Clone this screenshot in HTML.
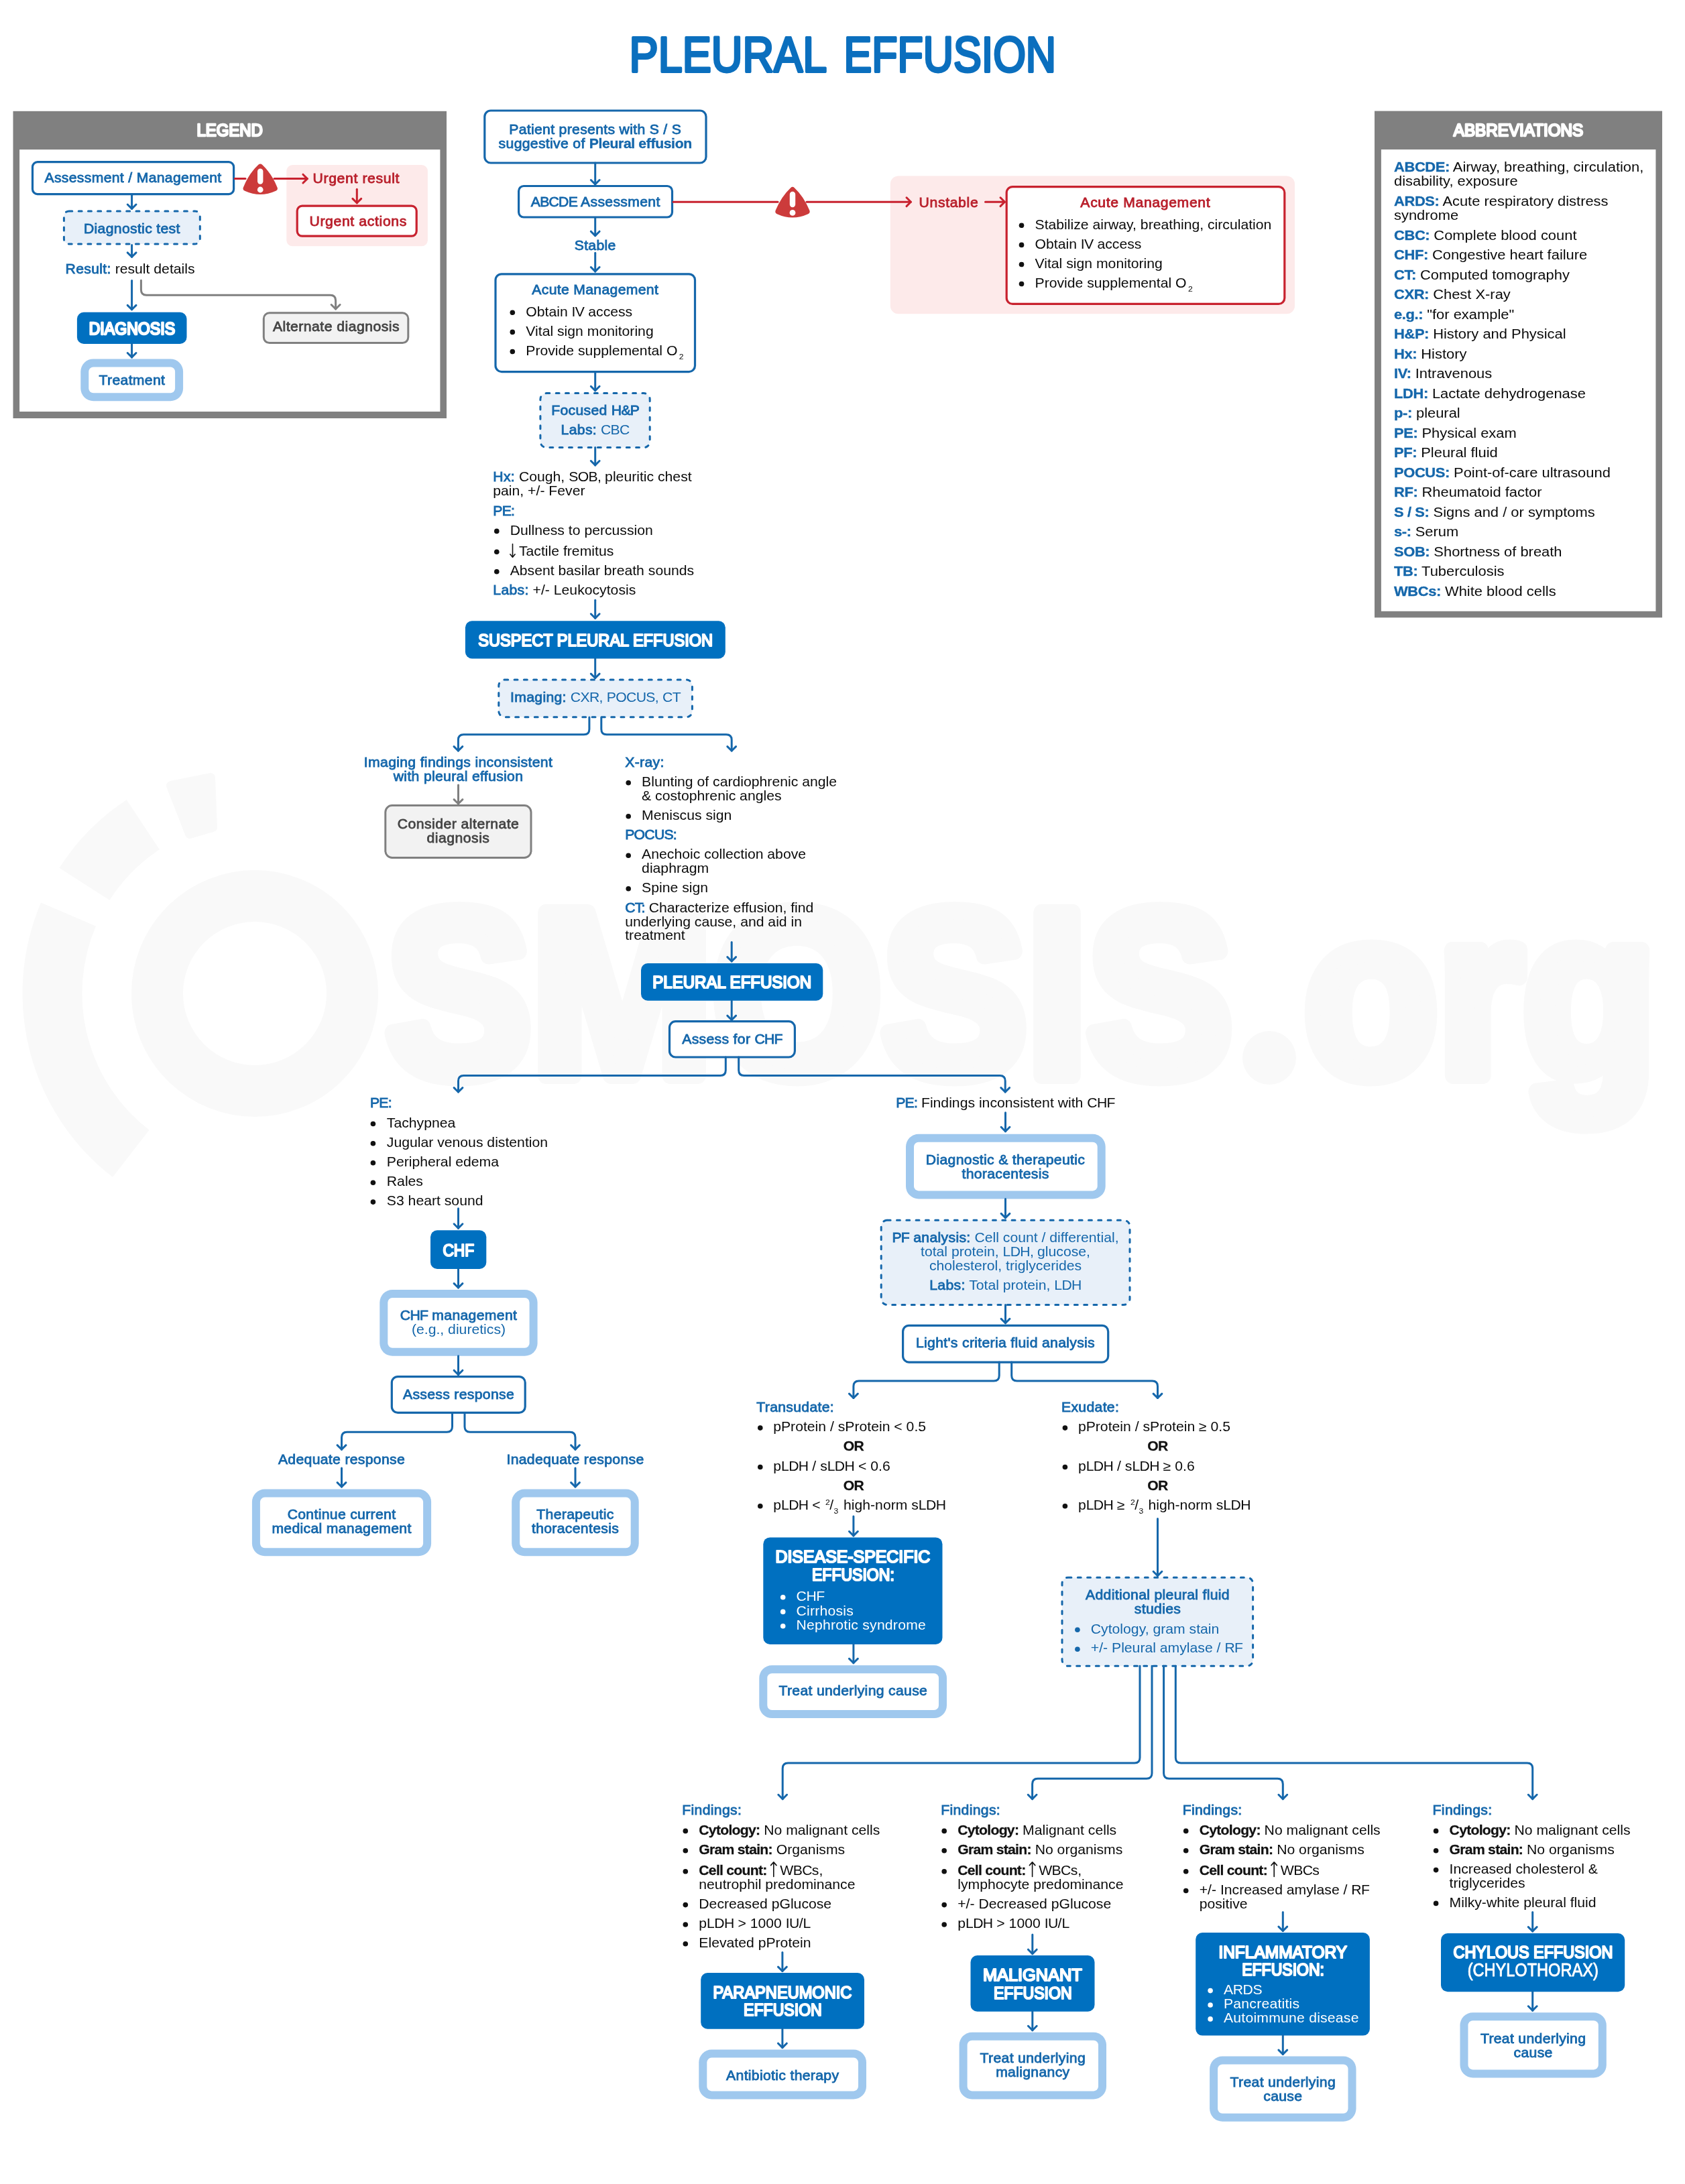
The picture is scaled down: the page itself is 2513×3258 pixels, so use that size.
<!DOCTYPE html>
<html><head><meta charset="utf-8"><title>Pleural Effusion</title>
<style>
html,body{margin:0;padding:0;background:#fff}
body{width:2513px;height:3258px;overflow:hidden}
svg{display:block;will-change:transform;font-family:"Liberation Sans",sans-serif}
svg text{white-space:pre}
</style></head><body>
<svg width="2513" height="3258" viewBox="0 0 2513 3258">
<path d="M195.3 1720.9A302 302 0 0 1 102.0 1364.0" fill="none" stroke="#f9f9f9" stroke-width="89"/>
<path d="M125.9 1318.8A302 302 0 0 1 213.3 1230.2" fill="none" stroke="#f9f9f9" stroke-width="89"/>
<circle cx="380" cy="1482" r="145.5" stroke-width="77" fill="none" stroke="#f9f9f9"/>
<path d="M255 1172L314 1160L317 1234L283 1244Z" stroke-width="14" stroke-linejoin="round" fill="#f9f9f9" stroke="#f9f9f9"/>
<text x="576" y="1604" font-size="352" font-weight="bold" textLength="1262" lengthAdjust="spacingAndGlyphs" fill="#f9f9f9" stroke="#f9f9f9" stroke-width="26" stroke-linejoin="round">SMOSIS</text>
<circle cx="1893" cy="1578" r="40" fill="#f9f9f9"/>
<text x="1945" y="1604" font-size="352" font-weight="bold" textLength="525" lengthAdjust="spacingAndGlyphs" fill="#f9f9f9" stroke="#f9f9f9" stroke-width="26" stroke-linejoin="round">org</text>
<text x="938.6" y="106.5" text-anchor="start" font-size="73.5" font-weight="normal" textLength="294.6" lengthAdjust="spacingAndGlyphs" fill="#0b6fbe" stroke="#0b6fbe" stroke-width="3.8" stroke-linejoin="round">PLEURAL</text>
<text x="1258.5" y="106.5" text-anchor="start" font-size="73.5" font-weight="normal" textLength="316.6" lengthAdjust="spacingAndGlyphs" fill="#0b6fbe" stroke="#0b6fbe" stroke-width="3.8" stroke-linejoin="round">EFFUSION</text>
<rect x="19.5" y="165.8" width="646.5" height="458.2" rx="0.0" fill="#808080"/>
<rect x="29.1" y="223.1" width="627.3" height="390.9" rx="0.0" fill="#fff"/>
<text x="342.7" y="203.3" text-anchor="middle" font-size="25.2" font-weight="normal" textLength="98.4" lengthAdjust="spacingAndGlyphs" fill="#fff" stroke="#fff" stroke-width="2.6" stroke-linejoin="round">LEGEND</text>
<rect x="48.5" y="241.7" width="300.1" height="47.9" rx="7.4" fill="#fff" stroke="#1567ab" stroke-width="3.2"/>
<text transform="translate(198.5 272.1) scale(1.060 1)" text-anchor="middle" font-size="20.0"><tspan style="fill:#1567ab;stroke:#1567ab;stroke-width:.8px;letter-spacing:0.30px">Assessment / Management</tspan></text>
<path d="M196.6 291.2L196.6 311.4" fill="none" stroke="#1567ab" stroke-width="3.0" stroke-linecap="round" stroke-linejoin="round"/>
<path d="M190.2 305.0L196.6 311.4L203.0 305.0" fill="none" stroke="#1567ab" stroke-width="3.0" stroke-linecap="round" stroke-linejoin="round"/>
<rect x="95.4" y="314.9" width="202.9" height="49.1" rx="7.5" fill="#e8f0f9" stroke="#1567ab" stroke-width="3.0" stroke-dasharray="4.9 9.4" stroke-linecap="round"/>
<text transform="translate(196.8 347.7) scale(1.060 1)" text-anchor="middle" font-size="20.0"><tspan style="fill:#1567ab;stroke:#1567ab;stroke-width:.8px;letter-spacing:0.30px">Diagnostic test</tspan></text>
<path d="M196.6 365.5L196.6 383.3" fill="none" stroke="#1567ab" stroke-width="3.0" stroke-linecap="round" stroke-linejoin="round"/>
<path d="M190.2 376.9L196.6 383.3L203.0 376.9" fill="none" stroke="#1567ab" stroke-width="3.0" stroke-linecap="round" stroke-linejoin="round"/>
<text transform="translate(97.6 408.0) scale(1.060 1)" text-anchor="start" font-size="20.0"><tspan style="fill:#1567ab;stroke:#1567ab;stroke-width:.8px;letter-spacing:0.30px">Result:</tspan><tspan style="fill:#0a0a0a;letter-spacing:0.00px"> result details</tspan></text>
<path d="M196.6 418.4L196.6 461.8" fill="none" stroke="#1567ab" stroke-width="3.0" stroke-linecap="round" stroke-linejoin="round"/>
<path d="M190.2 455.4L196.6 461.8L203.0 455.4" fill="none" stroke="#1567ab" stroke-width="3.0" stroke-linecap="round" stroke-linejoin="round"/>
<path d="M210.4 418.2L210.4 432.2Q210.4 440.2 218.4 440.2L492.6 440.2Q500.6 440.2 500.6 448.2L500.6 461" fill="none" stroke="#808080" stroke-width="3.0" stroke-linecap="round" stroke-linejoin="round"/>
<path d="M494.1 454.5L500.6 461.0L507.1 454.5" fill="none" stroke="#808080" stroke-width="3.0" stroke-linecap="round" stroke-linejoin="round"/>
<rect x="393.3" y="466.8" width="215.5" height="44.8" rx="8.5" fill="#f2f2f2" stroke="#808080" stroke-width="3.0"/>
<text transform="translate(501.5 494.0) scale(1.060 1)" text-anchor="middle" font-size="20.0"><tspan style="fill:#444;stroke:#444;stroke-width:.75px;letter-spacing:0.45px">Alternate diagnosis</tspan></text>
<rect x="114.9" y="465.8" width="163.6" height="47.2" rx="10.0" fill="#0070c0"/>
<text x="196.9" y="498.9" text-anchor="middle" font-size="25.2" font-weight="normal" textLength="128.4" lengthAdjust="spacingAndGlyphs" fill="#fff" stroke="#fff" stroke-width="2.6" stroke-linejoin="round">DIAGNOSIS</text>
<path d="M196.6 513.0L196.6 532.9" fill="none" stroke="#1567ab" stroke-width="3.0" stroke-linecap="round" stroke-linejoin="round"/>
<path d="M190.2 526.5L196.6 532.9L203.0 526.5" fill="none" stroke="#1567ab" stroke-width="3.0" stroke-linecap="round" stroke-linejoin="round"/>
<rect x="120.3" y="535.4" width="152.8" height="62.9" rx="19.0" fill="#9fc8ee"/>
<rect x="132.3" y="547.4" width="128.8" height="38.9" rx="7.0" fill="#fff"/>
<text transform="translate(196.9 574.2) scale(1.060 1)" text-anchor="middle" font-size="20.0"><tspan style="fill:#1567ab;stroke:#1567ab;stroke-width:.8px;letter-spacing:0.30px">Treatment</tspan></text>
<rect x="427.3" y="246.0" width="210.6" height="121.3" rx="9.0" fill="#fdeaea"/>
<path d="M350.2 266.6L366 266.6" fill="none" stroke="#c8222f" stroke-width="3.0" stroke-linecap="round" stroke-linejoin="round"/>
<path d="M409.0 266.6L458.3 266.6" fill="none" stroke="#c8222f" stroke-width="3.0" stroke-linecap="round" stroke-linejoin="round"/>
<path d="M451.9 260.2L458.3 266.6L451.9 273.0" fill="none" stroke="#c8222f" stroke-width="3.0" stroke-linecap="round" stroke-linejoin="round"/>
<g transform="translate(388.2 267.2)">
<path d="M0 -18.4 Q-13.6 -5.6 -21.4 13.8 Q0 23.6 21.4 13.8 Q13.6 -5.6 0 -18.4 Z" fill="#cc3b3b" stroke="#cc3b3b" stroke-width="8.4" stroke-linejoin="round"/>
<rect x="-4.2" y="-15.8" width="8.4" height="23.4" rx="4.2" fill="#fff"/>
<circle cx="0" cy="15.8" r="4.4" fill="#fff"/>
</g>
<text transform="translate(466.5 272.9) scale(1.060 1)" text-anchor="start" font-size="20.0"><tspan style="fill:#b9202c;stroke:#b9202c;stroke-width:.8px;letter-spacing:0.60px">Urgent result</tspan></text>
<path d="M532.3 282.3L532.3 302.8" fill="none" stroke="#c8222f" stroke-width="3.0" stroke-linecap="round" stroke-linejoin="round"/>
<path d="M525.9 296.4L532.3 302.8L538.7 296.4" fill="none" stroke="#c8222f" stroke-width="3.0" stroke-linecap="round" stroke-linejoin="round"/>
<rect x="443.2" y="307.2" width="178.0" height="45.0" rx="7.4" fill="#fff" stroke="#c8222f" stroke-width="3.2"/>
<text transform="translate(534.2 336.5) scale(1.060 1)" text-anchor="middle" font-size="20.0"><tspan style="fill:#b9202c;stroke:#b9202c;stroke-width:.8px;letter-spacing:0.60px">Urgent actions</tspan></text>
<rect x="2050.0" y="165.6" width="429.0" height="755.7" rx="0.0" fill="#808080"/>
<rect x="2059.9" y="223.0" width="409.5" height="688.8" rx="0.0" fill="#fff"/>
<text x="2264.5" y="203.3" text-anchor="middle" font-size="25.2" font-weight="normal" textLength="193.4" lengthAdjust="spacingAndGlyphs" fill="#fff" stroke="#fff" stroke-width="2.6" stroke-linejoin="round">ABBREVIATIONS</text>
<text transform="translate(2079.0 255.7) scale(1.075 1)" text-anchor="start" font-size="20.4"><tspan style="fill:#1567ab;font-weight:bold;letter-spacing:-.35px;stroke:#1567ab;stroke-width:.35px">ABCDE:</tspan><tspan style="fill:#0a0a0a;letter-spacing:0.00px"> Airway, breathing, circulation,</tspan></text>
<text transform="translate(2079.0 277.2) scale(1.075 1)" text-anchor="start" font-size="20.4"><tspan style="fill:#0a0a0a;letter-spacing:0.00px">disability, exposure</tspan></text>
<text transform="translate(2079.0 306.6) scale(1.075 1)" text-anchor="start" font-size="20.4"><tspan style="fill:#1567ab;font-weight:bold;letter-spacing:-.35px;stroke:#1567ab;stroke-width:.35px">ARDS:</tspan><tspan style="fill:#0a0a0a;letter-spacing:0.00px"> Acute respiratory distress</tspan></text>
<text transform="translate(2079.0 327.8) scale(1.075 1)" text-anchor="start" font-size="20.4"><tspan style="fill:#0a0a0a;letter-spacing:0.00px">syndrome</tspan></text>
<text transform="translate(2079.0 357.5) scale(1.075 1)" text-anchor="start" font-size="20.4"><tspan style="fill:#1567ab;font-weight:bold;letter-spacing:-.35px;stroke:#1567ab;stroke-width:.35px">CBC:</tspan><tspan style="fill:#0a0a0a;letter-spacing:0.00px"> Complete blood count</tspan></text>
<text transform="translate(2079.0 387.2) scale(1.075 1)" text-anchor="start" font-size="20.4"><tspan style="fill:#1567ab;font-weight:bold;letter-spacing:-.35px;stroke:#1567ab;stroke-width:.35px">CHF:</tspan><tspan style="fill:#0a0a0a;letter-spacing:0.00px"> Congestive heart failure</tspan></text>
<text transform="translate(2079.0 416.5) scale(1.075 1)" text-anchor="start" font-size="20.4"><tspan style="fill:#1567ab;font-weight:bold;letter-spacing:-.35px;stroke:#1567ab;stroke-width:.35px">CT:</tspan><tspan style="fill:#0a0a0a;letter-spacing:0.00px"> Computed tomography</tspan></text>
<text transform="translate(2079.0 446.2) scale(1.075 1)" text-anchor="start" font-size="20.4"><tspan style="fill:#1567ab;font-weight:bold;letter-spacing:-.35px;stroke:#1567ab;stroke-width:.35px">CXR:</tspan><tspan style="fill:#0a0a0a;letter-spacing:0.00px"> Chest X-ray</tspan></text>
<text transform="translate(2079.0 475.5) scale(1.075 1)" text-anchor="start" font-size="20.4"><tspan style="fill:#1567ab;font-weight:bold;letter-spacing:-.35px;stroke:#1567ab;stroke-width:.35px">e.g.:</tspan><tspan style="fill:#0a0a0a;letter-spacing:0.00px"> "for example"</tspan></text>
<text transform="translate(2079.0 505.0) scale(1.075 1)" text-anchor="start" font-size="20.4"><tspan style="fill:#1567ab;font-weight:bold;letter-spacing:-.35px;stroke:#1567ab;stroke-width:.35px">H&amp;P:</tspan><tspan style="fill:#0a0a0a;letter-spacing:0.00px"> History and Physical</tspan></text>
<text transform="translate(2079.0 534.8) scale(1.075 1)" text-anchor="start" font-size="20.4"><tspan style="fill:#1567ab;font-weight:bold;letter-spacing:-.35px;stroke:#1567ab;stroke-width:.35px">Hx:</tspan><tspan style="fill:#0a0a0a;letter-spacing:0.00px"> History</tspan></text>
<text transform="translate(2079.0 564.2) scale(1.075 1)" text-anchor="start" font-size="20.4"><tspan style="fill:#1567ab;font-weight:bold;letter-spacing:-.35px;stroke:#1567ab;stroke-width:.35px">IV:</tspan><tspan style="fill:#0a0a0a;letter-spacing:0.00px"> Intravenous</tspan></text>
<text transform="translate(2079.0 593.5) scale(1.075 1)" text-anchor="start" font-size="20.4"><tspan style="fill:#1567ab;font-weight:bold;letter-spacing:-.35px;stroke:#1567ab;stroke-width:.35px">LDH:</tspan><tspan style="fill:#0a0a0a;letter-spacing:0.00px"> Lactate dehydrogenase</tspan></text>
<text transform="translate(2079.0 622.9) scale(1.075 1)" text-anchor="start" font-size="20.4"><tspan style="fill:#1567ab;font-weight:bold;letter-spacing:-.35px;stroke:#1567ab;stroke-width:.35px">p-:</tspan><tspan style="fill:#0a0a0a;letter-spacing:0.00px"> pleural</tspan></text>
<text transform="translate(2079.0 652.7) scale(1.075 1)" text-anchor="start" font-size="20.4"><tspan style="fill:#1567ab;font-weight:bold;letter-spacing:-.35px;stroke:#1567ab;stroke-width:.35px">PE:</tspan><tspan style="fill:#0a0a0a;letter-spacing:0.00px"> Physical exam</tspan></text>
<text transform="translate(2079.0 682.2) scale(1.075 1)" text-anchor="start" font-size="20.4"><tspan style="fill:#1567ab;font-weight:bold;letter-spacing:-.35px;stroke:#1567ab;stroke-width:.35px">PF:</tspan><tspan style="fill:#0a0a0a;letter-spacing:0.00px"> Pleural fluid</tspan></text>
<text transform="translate(2079.0 711.7) scale(1.075 1)" text-anchor="start" font-size="20.4"><tspan style="fill:#1567ab;font-weight:bold;letter-spacing:-.35px;stroke:#1567ab;stroke-width:.35px">POCUS:</tspan><tspan style="fill:#0a0a0a;letter-spacing:0.00px"> Point-of-care ultrasound</tspan></text>
<text transform="translate(2079.0 741.2) scale(1.075 1)" text-anchor="start" font-size="20.4"><tspan style="fill:#1567ab;font-weight:bold;letter-spacing:-.35px;stroke:#1567ab;stroke-width:.35px">RF:</tspan><tspan style="fill:#0a0a0a;letter-spacing:0.00px"> Rheumatoid factor</tspan></text>
<text transform="translate(2079.0 770.8) scale(1.075 1)" text-anchor="start" font-size="20.4"><tspan style="fill:#1567ab;font-weight:bold;letter-spacing:-.35px;stroke:#1567ab;stroke-width:.35px">S / S:</tspan><tspan style="fill:#0a0a0a;letter-spacing:0.00px"> Signs and / or symptoms</tspan></text>
<text transform="translate(2079.0 800.4) scale(1.075 1)" text-anchor="start" font-size="20.4"><tspan style="fill:#1567ab;font-weight:bold;letter-spacing:-.35px;stroke:#1567ab;stroke-width:.35px">s-:</tspan><tspan style="fill:#0a0a0a;letter-spacing:0.00px"> Serum</tspan></text>
<text transform="translate(2079.0 830.2) scale(1.075 1)" text-anchor="start" font-size="20.4"><tspan style="fill:#1567ab;font-weight:bold;letter-spacing:-.35px;stroke:#1567ab;stroke-width:.35px">SOB:</tspan><tspan style="fill:#0a0a0a;letter-spacing:0.00px"> Shortness of breath</tspan></text>
<text transform="translate(2079.0 859.4) scale(1.075 1)" text-anchor="start" font-size="20.4"><tspan style="fill:#1567ab;font-weight:bold;letter-spacing:-.35px;stroke:#1567ab;stroke-width:.35px">TB:</tspan><tspan style="fill:#0a0a0a;letter-spacing:0.00px"> Tuberculosis</tspan></text>
<text transform="translate(2079.0 888.9) scale(1.075 1)" text-anchor="start" font-size="20.4"><tspan style="fill:#1567ab;font-weight:bold;letter-spacing:-.35px;stroke:#1567ab;stroke-width:.35px">WBCs:</tspan><tspan style="fill:#0a0a0a;letter-spacing:0.00px"> White blood cells</tspan></text>
<rect x="722.8" y="165.0" width="330.2" height="78.0" rx="9.0" fill="#fff" stroke="#1567ab" stroke-width="3.2"/>
<text transform="translate(887.7 200.2) scale(1.060 1)" text-anchor="middle" font-size="20.0"><tspan style="fill:#1567ab;stroke:#1567ab;stroke-width:.8px;letter-spacing:0.30px">Patient presents with S / S</tspan></text>
<text transform="translate(887.7 221.4) scale(1.060 1)" text-anchor="middle" font-size="20.0"><tspan style="fill:#1567ab;stroke:#1567ab;stroke-width:.8px;letter-spacing:0.30px">suggestive of </tspan><tspan style="fill:#1567ab;font-weight:bold;letter-spacing:-.35px;stroke:#1567ab;stroke-width:.35px">Pleural effusion</tspan></text>
<path d="M887.7 243.0L887.7 274.9" fill="none" stroke="#1567ab" stroke-width="3.0" stroke-linecap="round" stroke-linejoin="round"/>
<path d="M881.3 268.5L887.7 274.9L894.1 268.5" fill="none" stroke="#1567ab" stroke-width="3.0" stroke-linecap="round" stroke-linejoin="round"/>
<rect x="773.6" y="277.5" width="228.9" height="46.5" rx="7.4" fill="#fff" stroke="#1567ab" stroke-width="3.2"/>
<text transform="translate(888.2 307.8) scale(1.060 1)" text-anchor="middle" font-size="20.0"><tspan style="fill:#1567ab;stroke:#1567ab;stroke-width:.8px;letter-spacing:-0.70px">ABCDE</tspan><tspan style="fill:#1567ab;stroke:#1567ab;stroke-width:.8px;letter-spacing:0.30px"> Assessment</tspan></text>
<rect x="1327.8" y="262.6" width="603.2" height="205.6" rx="12.0" fill="#fdeaea"/>
<path d="M1004.1 301.2L1160 301.2" fill="none" stroke="#c8222f" stroke-width="3.0" stroke-linecap="round" stroke-linejoin="round"/>
<path d="M1203.0 301.2L1358.4 301.2" fill="none" stroke="#c8222f" stroke-width="3.0" stroke-linecap="round" stroke-linejoin="round"/>
<path d="M1352.0 294.8L1358.4 301.2L1352.0 307.6" fill="none" stroke="#c8222f" stroke-width="3.0" stroke-linecap="round" stroke-linejoin="round"/>
<g transform="translate(1182.0 301.6)">
<path d="M0 -18.4 Q-13.6 -5.6 -21.4 13.8 Q0 23.6 21.4 13.8 Q13.6 -5.6 0 -18.4 Z" fill="#cc3b3b" stroke="#cc3b3b" stroke-width="8.4" stroke-linejoin="round"/>
<rect x="-4.2" y="-15.8" width="8.4" height="23.4" rx="4.2" fill="#fff"/>
<circle cx="0" cy="15.8" r="4.4" fill="#fff"/>
</g>
<text transform="translate(1370.6 309.2) scale(1.060 1)" text-anchor="start" font-size="20.0"><tspan style="fill:#b9202c;stroke:#b9202c;stroke-width:.8px;letter-spacing:0.60px">Unstable</tspan></text>
<path d="M1469.5 301.2L1498.4 301.2" fill="none" stroke="#c8222f" stroke-width="3.0" stroke-linecap="round" stroke-linejoin="round"/>
<path d="M1492.0 294.8L1498.4 301.2L1492.0 307.6" fill="none" stroke="#c8222f" stroke-width="3.0" stroke-linecap="round" stroke-linejoin="round"/>
<rect x="1501.2" y="278.6" width="414.6" height="174.8" rx="9.0" fill="#fff" stroke="#c8222f" stroke-width="3.2"/>
<text transform="translate(1708.3 309.2) scale(1.060 1)" text-anchor="middle" font-size="20.0"><tspan style="fill:#b9202c;stroke:#b9202c;stroke-width:.8px;letter-spacing:0.60px">Acute Management</tspan></text>
<circle cx="1523.5" cy="336.3" r="3.8" fill="#111"/>
<text transform="translate(1543.5 341.5) scale(1.060 1)" text-anchor="start" font-size="20.0"><tspan style="fill:#0a0a0a;letter-spacing:0.00px">Stabilize airway, breathing, circulation</tspan></text>
<circle cx="1523.5" cy="365.4" r="3.8" fill="#111"/>
<text transform="translate(1543.5 370.6) scale(1.060 1)" text-anchor="start" font-size="20.0"><tspan style="fill:#0a0a0a;letter-spacing:0.00px">Obtain </tspan><tspan style="fill:#0a0a0a;letter-spacing:-0.60px">IV</tspan><tspan style="fill:#0a0a0a;letter-spacing:0.00px"> access</tspan></text>
<circle cx="1523.5" cy="394.5" r="3.8" fill="#111"/>
<text transform="translate(1543.5 399.7) scale(1.060 1)" text-anchor="start" font-size="20.0"><tspan style="fill:#0a0a0a;letter-spacing:0.00px">Vital sign monitoring</tspan></text>
<circle cx="1523.5" cy="423.5" r="3.8" fill="#111"/>
<text transform="translate(1543.5 428.7) scale(1.060 1)" text-anchor="start" font-size="20.0"><tspan style="fill:#0a0a0a;letter-spacing:0.00px">Provide supplemental O</tspan></text>
<text transform="translate(1772.0 434.5) scale(1.060 1)" text-anchor="start" font-size="11.5"><tspan style="fill:#0a0a0a;letter-spacing:0.00px">2</tspan></text>
<path d="M887.7 325.6L887.7 351.6" fill="none" stroke="#1567ab" stroke-width="3.0" stroke-linecap="round" stroke-linejoin="round"/>
<path d="M881.3 345.2L887.7 351.6L894.1 345.2" fill="none" stroke="#1567ab" stroke-width="3.0" stroke-linecap="round" stroke-linejoin="round"/>
<text transform="translate(887.7 372.6) scale(1.060 1)" text-anchor="middle" font-size="20.0"><tspan style="fill:#1567ab;stroke:#1567ab;stroke-width:.8px;letter-spacing:0.30px">Stable</tspan></text>
<path d="M887.7 377.3L887.7 404.9" fill="none" stroke="#1567ab" stroke-width="3.0" stroke-linecap="round" stroke-linejoin="round"/>
<path d="M881.3 398.5L887.7 404.9L894.1 398.5" fill="none" stroke="#1567ab" stroke-width="3.0" stroke-linecap="round" stroke-linejoin="round"/>
<rect x="739.0" y="408.8" width="297.5" height="145.8" rx="9.0" fill="#fff" stroke="#1567ab" stroke-width="3.2"/>
<text transform="translate(887.7 439.1) scale(1.060 1)" text-anchor="middle" font-size="20.0"><tspan style="fill:#1567ab;stroke:#1567ab;stroke-width:.8px;letter-spacing:0.30px">Acute Management</tspan></text>
<circle cx="764.3" cy="466.3" r="3.8" fill="#111"/>
<text transform="translate(784.3 471.5) scale(1.060 1)" text-anchor="start" font-size="20.0"><tspan style="fill:#0a0a0a;letter-spacing:0.00px">Obtain </tspan><tspan style="fill:#0a0a0a;letter-spacing:-0.60px">IV</tspan><tspan style="fill:#0a0a0a;letter-spacing:0.00px"> access</tspan></text>
<circle cx="764.3" cy="495.4" r="3.8" fill="#111"/>
<text transform="translate(784.3 500.6) scale(1.060 1)" text-anchor="start" font-size="20.0"><tspan style="fill:#0a0a0a;letter-spacing:0.00px">Vital sign monitoring</tspan></text>
<circle cx="764.3" cy="524.5" r="3.8" fill="#111"/>
<text transform="translate(784.3 529.7) scale(1.060 1)" text-anchor="start" font-size="20.0"><tspan style="fill:#0a0a0a;letter-spacing:0.00px">Provide supplemental O</tspan></text>
<text transform="translate(1012.8 535.5) scale(1.060 1)" text-anchor="start" font-size="11.5"><tspan style="fill:#0a0a0a;letter-spacing:0.00px">2</tspan></text>
<path d="M887.7 554.6L887.7 582.7" fill="none" stroke="#1567ab" stroke-width="3.0" stroke-linecap="round" stroke-linejoin="round"/>
<path d="M881.3 576.3L887.7 582.7L894.1 576.3" fill="none" stroke="#1567ab" stroke-width="3.0" stroke-linecap="round" stroke-linejoin="round"/>
<rect x="805.9" y="586.6" width="163.3" height="81.0" rx="9.0" fill="#e8f0f9" stroke="#1567ab" stroke-width="3.0" stroke-dasharray="4.9 9.4" stroke-linecap="round"/>
<text transform="translate(887.7 619.0) scale(1.060 1)" text-anchor="middle" font-size="20.0"><tspan style="fill:#1567ab;stroke:#1567ab;stroke-width:.8px;letter-spacing:0.30px">Focused </tspan><tspan style="fill:#1567ab;stroke:#1567ab;stroke-width:.8px;letter-spacing:-0.70px">H&amp;P</tspan></text>
<text transform="translate(887.7 648.1) scale(1.060 1)" text-anchor="middle" font-size="20.0"><tspan style="fill:#1567ab;stroke:#1567ab;stroke-width:.8px;letter-spacing:0.30px">Labs:</tspan><tspan style="fill:#1567ab;letter-spacing:0.00px"> </tspan><tspan style="fill:#1567ab;letter-spacing:-0.60px">CBC</tspan></text>
<path d="M887.7 667.6L887.7 693.9" fill="none" stroke="#1567ab" stroke-width="3.0" stroke-linecap="round" stroke-linejoin="round"/>
<path d="M881.3 687.5L887.7 693.9L894.1 687.5" fill="none" stroke="#1567ab" stroke-width="3.0" stroke-linecap="round" stroke-linejoin="round"/>
<text transform="translate(735.3 718.3) scale(1.060 1)" text-anchor="start" font-size="20.0"><tspan style="fill:#1567ab;stroke:#1567ab;stroke-width:.8px;letter-spacing:0.30px">Hx:</tspan><tspan style="fill:#0a0a0a;letter-spacing:0.00px"> Cough, </tspan><tspan style="fill:#0a0a0a;letter-spacing:-0.60px">SOB,</tspan><tspan style="fill:#0a0a0a;letter-spacing:0.00px"> pleuritic chest</tspan></text>
<text transform="translate(735.3 738.8) scale(1.060 1)" text-anchor="start" font-size="20.0"><tspan style="fill:#0a0a0a;letter-spacing:0.00px">pain, +/- Fever</tspan></text>
<text transform="translate(735.3 768.7) scale(1.060 1)" text-anchor="start" font-size="20.0"><tspan style="fill:#1567ab;stroke:#1567ab;stroke-width:.8px;letter-spacing:-0.70px">PE:</tspan></text>
<circle cx="740.8" cy="792.4" r="3.8" fill="#111"/>
<text transform="translate(760.7 797.6) scale(1.060 1)" text-anchor="start" font-size="20.0"><tspan style="fill:#0a0a0a;letter-spacing:0.00px">Dullness to percussion</tspan></text>
<circle cx="740.8" cy="823.3" r="3.8" fill="#111"/>
<text transform="translate(774.0 828.5) scale(1.060 1)" text-anchor="start" font-size="20.0"><tspan style="fill:#0a0a0a;letter-spacing:0.00px">Tactile fremitus</tspan></text>
<path d="M764.5 811.5L764.5 831M760.9 826.8L764.5 831.2L768.1 826.8" fill="none" stroke="#111" stroke-width="1.6" stroke-linecap="round" stroke-linejoin="round"/>
<circle cx="740.8" cy="852.7" r="3.8" fill="#111"/>
<text transform="translate(760.7 857.9) scale(1.060 1)" text-anchor="start" font-size="20.0"><tspan style="fill:#0a0a0a;letter-spacing:0.00px">Absent basilar breath sounds</tspan></text>
<text transform="translate(735.3 887.3) scale(1.060 1)" text-anchor="start" font-size="20.0"><tspan style="fill:#1567ab;stroke:#1567ab;stroke-width:.8px;letter-spacing:0.30px">Labs:</tspan><tspan style="fill:#0a0a0a;letter-spacing:0.00px"> +/- Leukocytosis</tspan></text>
<path d="M887.7 895.3L887.7 922.2" fill="none" stroke="#1567ab" stroke-width="3.0" stroke-linecap="round" stroke-linejoin="round"/>
<path d="M881.3 915.8L887.7 922.2L894.1 915.8" fill="none" stroke="#1567ab" stroke-width="3.0" stroke-linecap="round" stroke-linejoin="round"/>
<rect x="693.9" y="926.2" width="387.9" height="56.3" rx="10.0" fill="#0070c0"/>
<text x="888.2" y="963.6" text-anchor="middle" font-size="25.2" font-weight="normal" textLength="349.8" lengthAdjust="spacingAndGlyphs" fill="#fff" stroke="#fff" stroke-width="2.2" stroke-linejoin="round">SUSPECT PLEURAL EFFUSION</text>
<path d="M887.7 982.5L887.7 1011.5" fill="none" stroke="#1567ab" stroke-width="3.0" stroke-linecap="round" stroke-linejoin="round"/>
<path d="M881.3 1005.1L887.7 1011.5L894.1 1005.1" fill="none" stroke="#1567ab" stroke-width="3.0" stroke-linecap="round" stroke-linejoin="round"/>
<rect x="743.8" y="1014.0" width="288.6" height="55.8" rx="9.0" fill="#e8f0f9" stroke="#1567ab" stroke-width="3.0" stroke-dasharray="4.9 9.4" stroke-linecap="round"/>
<text transform="translate(888.0 1047.3) scale(1.060 1)" text-anchor="middle" font-size="20.0"><tspan style="fill:#1567ab;stroke:#1567ab;stroke-width:.8px;letter-spacing:0.30px">Imaging:</tspan><tspan style="fill:#1567ab;letter-spacing:0.00px"> </tspan><tspan style="fill:#1567ab;letter-spacing:-0.60px">CXR,</tspan><tspan style="fill:#1567ab;letter-spacing:0.00px"> </tspan><tspan style="fill:#1567ab;letter-spacing:-0.60px">POCUS,</tspan><tspan style="fill:#1567ab;letter-spacing:0.00px"> </tspan><tspan style="fill:#1567ab;letter-spacing:-0.60px">CT</tspan></text>
<path d="M878.9 1070.0L878.9 1087.7Q878.9 1095.7 870.9 1095.7L691.4 1095.7Q683.4 1095.7 683.4 1103.7L683.4 1120.0" fill="none" stroke="#1567ab" stroke-width="3.0" stroke-linecap="round" stroke-linejoin="round"/>
<path d="M677.0 1113.6L683.4 1120.0L689.8 1113.6" fill="none" stroke="#1567ab" stroke-width="3.0" stroke-linecap="round" stroke-linejoin="round"/>
<path d="M896.8 1070.0L896.8 1087.7Q896.8 1095.7 904.8 1095.7L1083.2 1095.7Q1091.2 1095.7 1091.2 1103.7L1091.2 1120.0" fill="none" stroke="#1567ab" stroke-width="3.0" stroke-linecap="round" stroke-linejoin="round"/>
<path d="M1084.8 1113.6L1091.2 1120.0L1097.6 1113.6" fill="none" stroke="#1567ab" stroke-width="3.0" stroke-linecap="round" stroke-linejoin="round"/>
<text transform="translate(683.5 1143.8) scale(1.060 1)" text-anchor="middle" font-size="20.0"><tspan style="fill:#1567ab;stroke:#1567ab;stroke-width:.8px;letter-spacing:0.30px">Imaging findings inconsistent</tspan></text>
<text transform="translate(683.5 1164.7) scale(1.060 1)" text-anchor="middle" font-size="20.0"><tspan style="fill:#1567ab;stroke:#1567ab;stroke-width:.8px;letter-spacing:0.30px">with pleural effusion</tspan></text>
<path d="M683.5 1171.0L683.5 1199.0" fill="none" stroke="#808080" stroke-width="3.0" stroke-linecap="round" stroke-linejoin="round"/>
<path d="M677.1 1192.6L683.5 1199.0L689.9 1192.6" fill="none" stroke="#808080" stroke-width="3.0" stroke-linecap="round" stroke-linejoin="round"/>
<rect x="574.8" y="1201.6" width="217.2" height="77.8" rx="10.0" fill="#f2f2f2" stroke="#808080" stroke-width="3.0"/>
<text transform="translate(683.5 1235.5) scale(1.060 1)" text-anchor="middle" font-size="20.0"><tspan style="fill:#444;stroke:#444;stroke-width:.75px;letter-spacing:0.45px">Consider alternate</tspan></text>
<text transform="translate(683.5 1256.5) scale(1.060 1)" text-anchor="middle" font-size="20.0"><tspan style="fill:#444;stroke:#444;stroke-width:.75px;letter-spacing:0.45px">diagnosis</tspan></text>
<text transform="translate(932.2 1143.8) scale(1.060 1)" text-anchor="start" font-size="20.0"><tspan style="fill:#1567ab;stroke:#1567ab;stroke-width:.8px;letter-spacing:0.30px">X-ray:</tspan></text>
<circle cx="937.2" cy="1167.8" r="3.8" fill="#111"/>
<text transform="translate(957.1 1173.0) scale(1.060 1)" text-anchor="start" font-size="20.0"><tspan style="fill:#0a0a0a;letter-spacing:0.00px">Blunting of cardiophrenic angle</tspan></text>
<text transform="translate(957.1 1194.0) scale(1.060 1)" text-anchor="start" font-size="20.0"><tspan style="fill:#0a0a0a;letter-spacing:0.00px">&amp; costophrenic angles</tspan></text>
<circle cx="937.2" cy="1217.8" r="3.8" fill="#111"/>
<text transform="translate(957.1 1223.0) scale(1.060 1)" text-anchor="start" font-size="20.0"><tspan style="fill:#0a0a0a;letter-spacing:0.00px">Meniscus sign</tspan></text>
<text transform="translate(932.2 1252.0) scale(1.060 1)" text-anchor="start" font-size="20.0"><tspan style="fill:#1567ab;stroke:#1567ab;stroke-width:.8px;letter-spacing:-0.70px">POCUS:</tspan></text>
<circle cx="937.2" cy="1276.2" r="3.8" fill="#111"/>
<text transform="translate(957.1 1281.4) scale(1.060 1)" text-anchor="start" font-size="20.0"><tspan style="fill:#0a0a0a;letter-spacing:0.00px">Anechoic collection above</tspan></text>
<text transform="translate(957.1 1302.3) scale(1.060 1)" text-anchor="start" font-size="20.0"><tspan style="fill:#0a0a0a;letter-spacing:0.00px">diaphragm</tspan></text>
<circle cx="937.2" cy="1325.8" r="3.8" fill="#111"/>
<text transform="translate(957.1 1331.0) scale(1.060 1)" text-anchor="start" font-size="20.0"><tspan style="fill:#0a0a0a;letter-spacing:0.00px">Spine sign</tspan></text>
<text transform="translate(932.2 1360.7) scale(1.060 1)" text-anchor="start" font-size="20.0"><tspan style="fill:#1567ab;stroke:#1567ab;stroke-width:.8px;letter-spacing:-0.70px">CT:</tspan><tspan style="fill:#0a0a0a;letter-spacing:0.00px"> Characterize effusion, find</tspan></text>
<text transform="translate(932.2 1381.6) scale(1.060 1)" text-anchor="start" font-size="20.0"><tspan style="fill:#0a0a0a;letter-spacing:0.00px">underlying cause, and aid in</tspan></text>
<text transform="translate(932.2 1402.0) scale(1.060 1)" text-anchor="start" font-size="20.0"><tspan style="fill:#0a0a0a;letter-spacing:0.00px">treatment</tspan></text>
<path d="M1091.2 1405.5L1091.2 1434.0" fill="none" stroke="#1567ab" stroke-width="3.0" stroke-linecap="round" stroke-linejoin="round"/>
<path d="M1084.8 1427.6L1091.2 1434.0L1097.6 1427.6" fill="none" stroke="#1567ab" stroke-width="3.0" stroke-linecap="round" stroke-linejoin="round"/>
<rect x="956.0" y="1437.0" width="271.3" height="55.8" rx="10.0" fill="#0070c0"/>
<text x="1091.7" y="1474.4" text-anchor="middle" font-size="25.2" font-weight="normal" textLength="236.8" lengthAdjust="spacingAndGlyphs" fill="#fff" stroke="#fff" stroke-width="2.2" stroke-linejoin="round">PLEURAL EFFUSION</text>
<path d="M1091.2 1492.8L1091.2 1521.5" fill="none" stroke="#1567ab" stroke-width="3.0" stroke-linecap="round" stroke-linejoin="round"/>
<path d="M1084.8 1515.1L1091.2 1521.5L1097.6 1515.1" fill="none" stroke="#1567ab" stroke-width="3.0" stroke-linecap="round" stroke-linejoin="round"/>
<rect x="998.5" y="1523.7" width="186.9" height="53.3" rx="9.0" fill="#fff" stroke="#1567ab" stroke-width="3.2"/>
<text transform="translate(1092.0 1556.5) scale(1.060 1)" text-anchor="middle" font-size="20.0"><tspan style="fill:#1567ab;stroke:#1567ab;stroke-width:.8px;letter-spacing:0.30px">Assess for </tspan><tspan style="fill:#1567ab;stroke:#1567ab;stroke-width:.8px;letter-spacing:-0.70px">CHF</tspan></text>
<path d="M1082.3 1577.0L1082.3 1596.4Q1082.3 1604.4 1074.3 1604.4L691.5 1604.4Q683.5 1604.4 683.5 1612.4L683.5 1629.0" fill="none" stroke="#1567ab" stroke-width="3.0" stroke-linecap="round" stroke-linejoin="round"/>
<path d="M677.1 1622.6L683.5 1629.0L689.9 1622.6" fill="none" stroke="#1567ab" stroke-width="3.0" stroke-linecap="round" stroke-linejoin="round"/>
<path d="M1101.7 1577.0L1101.7 1596.4Q1101.7 1604.4 1109.7 1604.4L1491.2 1604.4Q1499.2 1604.4 1499.2 1612.4L1499.2 1629.0" fill="none" stroke="#1567ab" stroke-width="3.0" stroke-linecap="round" stroke-linejoin="round"/>
<path d="M1492.8 1622.6L1499.2 1629.0L1505.6 1622.6" fill="none" stroke="#1567ab" stroke-width="3.0" stroke-linecap="round" stroke-linejoin="round"/>
<text transform="translate(551.9 1652.3) scale(1.060 1)" text-anchor="start" font-size="20.0"><tspan style="fill:#1567ab;stroke:#1567ab;stroke-width:.8px;letter-spacing:-0.70px">PE:</tspan></text>
<circle cx="556.4" cy="1676.5" r="3.8" fill="#111"/>
<text transform="translate(576.8 1681.7) scale(1.060 1)" text-anchor="start" font-size="20.0"><tspan style="fill:#0a0a0a;letter-spacing:0.00px">Tachypnea</tspan></text>
<circle cx="556.4" cy="1705.8" r="3.8" fill="#111"/>
<text transform="translate(576.8 1711.0) scale(1.060 1)" text-anchor="start" font-size="20.0"><tspan style="fill:#0a0a0a;letter-spacing:0.00px">Jugular venous distention</tspan></text>
<circle cx="556.4" cy="1734.8" r="3.8" fill="#111"/>
<text transform="translate(576.8 1740.0) scale(1.060 1)" text-anchor="start" font-size="20.0"><tspan style="fill:#0a0a0a;letter-spacing:0.00px">Peripheral edema</tspan></text>
<circle cx="556.4" cy="1764.2" r="3.8" fill="#111"/>
<text transform="translate(576.8 1769.4) scale(1.060 1)" text-anchor="start" font-size="20.0"><tspan style="fill:#0a0a0a;letter-spacing:0.00px">Rales</tspan></text>
<circle cx="556.4" cy="1793.1" r="3.8" fill="#111"/>
<text transform="translate(576.8 1798.3) scale(1.060 1)" text-anchor="start" font-size="20.0"><tspan style="fill:#0a0a0a;letter-spacing:0.00px">S3 heart sound</tspan></text>
<path d="M683.5 1802.8L683.5 1832.2" fill="none" stroke="#1567ab" stroke-width="3.0" stroke-linecap="round" stroke-linejoin="round"/>
<path d="M677.1 1825.8L683.5 1832.2L689.9 1825.8" fill="none" stroke="#1567ab" stroke-width="3.0" stroke-linecap="round" stroke-linejoin="round"/>
<rect x="642.0" y="1835.2" width="83.3" height="57.8" rx="10.0" fill="#0070c0"/>
<text x="683.8" y="1873.7" text-anchor="middle" font-size="25.2" font-weight="normal" textLength="46.8" lengthAdjust="spacingAndGlyphs" fill="#fff" stroke="#fff" stroke-width="2.2" stroke-linejoin="round">CHF</text>
<path d="M683.5 1893.0L683.5 1921.0" fill="none" stroke="#1567ab" stroke-width="3.0" stroke-linecap="round" stroke-linejoin="round"/>
<path d="M677.1 1914.6L683.5 1921.0L689.9 1914.6" fill="none" stroke="#1567ab" stroke-width="3.0" stroke-linecap="round" stroke-linejoin="round"/>
<rect x="566.3" y="1924.0" width="235.3" height="98.7" rx="19.0" fill="#9fc8ee"/>
<rect x="578.3" y="1936.0" width="211.3" height="74.7" rx="7.0" fill="#fff"/>
<text transform="translate(684.0 1968.8) scale(1.060 1)" text-anchor="middle" font-size="20.0"><tspan style="fill:#1567ab;stroke:#1567ab;stroke-width:.8px;letter-spacing:-0.70px">CHF</tspan><tspan style="fill:#1567ab;stroke:#1567ab;stroke-width:.8px;letter-spacing:0.30px"> management</tspan></text>
<text transform="translate(684.0 1989.8) scale(1.060 1)" text-anchor="middle" font-size="20.0"><tspan style="fill:#1567ab;letter-spacing:0.00px">(e.g., diuretics)</tspan></text>
<path d="M683.5 2022.7L683.5 2050.6" fill="none" stroke="#1567ab" stroke-width="3.0" stroke-linecap="round" stroke-linejoin="round"/>
<path d="M677.1 2044.2L683.5 2050.6L689.9 2044.2" fill="none" stroke="#1567ab" stroke-width="3.0" stroke-linecap="round" stroke-linejoin="round"/>
<rect x="584.3" y="2053.6" width="198.9" height="53.8" rx="9.0" fill="#fff" stroke="#1567ab" stroke-width="3.2"/>
<text transform="translate(684.0 2086.5) scale(1.060 1)" text-anchor="middle" font-size="20.0"><tspan style="fill:#1567ab;stroke:#1567ab;stroke-width:.8px;letter-spacing:0.30px">Assess response</tspan></text>
<path d="M674.5 2107.4L674.5 2128.3Q674.5 2136.3 666.5 2136.3L517.5 2136.3Q509.5 2136.3 509.5 2144.3L509.5 2162.3" fill="none" stroke="#1567ab" stroke-width="3.0" stroke-linecap="round" stroke-linejoin="round"/>
<path d="M503.1 2155.9L509.5 2162.3L515.9 2155.9" fill="none" stroke="#1567ab" stroke-width="3.0" stroke-linecap="round" stroke-linejoin="round"/>
<path d="M693.0 2107.4L693.0 2128.3Q693.0 2136.3 701.0 2136.3L850.0 2136.3Q858.0 2136.3 858.0 2144.3L858.0 2162.3" fill="none" stroke="#1567ab" stroke-width="3.0" stroke-linecap="round" stroke-linejoin="round"/>
<path d="M851.6 2155.9L858.0 2162.3L864.4 2155.9" fill="none" stroke="#1567ab" stroke-width="3.0" stroke-linecap="round" stroke-linejoin="round"/>
<text transform="translate(509.5 2184.2) scale(1.060 1)" text-anchor="middle" font-size="20.0"><tspan style="fill:#1567ab;stroke:#1567ab;stroke-width:.8px;letter-spacing:0.30px">Adequate response</tspan></text>
<text transform="translate(858.0 2184.2) scale(1.060 1)" text-anchor="middle" font-size="20.0"><tspan style="fill:#1567ab;stroke:#1567ab;stroke-width:.8px;letter-spacing:0.30px">Inadequate response</tspan></text>
<path d="M509.5 2190.0L509.5 2218.0" fill="none" stroke="#1567ab" stroke-width="3.0" stroke-linecap="round" stroke-linejoin="round"/>
<path d="M503.1 2211.6L509.5 2218.0L515.9 2211.6" fill="none" stroke="#1567ab" stroke-width="3.0" stroke-linecap="round" stroke-linejoin="round"/>
<path d="M858.0 2190.0L858.0 2218.0" fill="none" stroke="#1567ab" stroke-width="3.0" stroke-linecap="round" stroke-linejoin="round"/>
<path d="M851.6 2211.6L858.0 2218.0L864.4 2211.6" fill="none" stroke="#1567ab" stroke-width="3.0" stroke-linecap="round" stroke-linejoin="round"/>
<rect x="375.9" y="2221.6" width="267.2" height="99.7" rx="19.0" fill="#9fc8ee"/>
<rect x="387.9" y="2233.6" width="243.2" height="75.7" rx="7.0" fill="#fff"/>
<text transform="translate(509.5 2266.4) scale(1.060 1)" text-anchor="middle" font-size="20.0"><tspan style="fill:#1567ab;stroke:#1567ab;stroke-width:.8px;letter-spacing:0.30px">Continue current</tspan></text>
<text transform="translate(509.5 2287.4) scale(1.060 1)" text-anchor="middle" font-size="20.0"><tspan style="fill:#1567ab;stroke:#1567ab;stroke-width:.8px;letter-spacing:0.30px">medical management</tspan></text>
<rect x="763.2" y="2221.6" width="189.5" height="99.7" rx="19.0" fill="#9fc8ee"/>
<rect x="775.2" y="2233.6" width="165.5" height="75.7" rx="7.0" fill="#fff"/>
<text transform="translate(858.0 2266.4) scale(1.060 1)" text-anchor="middle" font-size="20.0"><tspan style="fill:#1567ab;stroke:#1567ab;stroke-width:.8px;letter-spacing:0.30px">Therapeutic</tspan></text>
<text transform="translate(858.0 2287.4) scale(1.060 1)" text-anchor="middle" font-size="20.0"><tspan style="fill:#1567ab;stroke:#1567ab;stroke-width:.8px;letter-spacing:0.30px">thoracentesis</tspan></text>
<text transform="translate(1499.5 1652.3) scale(1.060 1)" text-anchor="middle" font-size="20.0"><tspan style="fill:#1567ab;stroke:#1567ab;stroke-width:.8px;letter-spacing:-0.70px">PE:</tspan><tspan style="fill:#0a0a0a;letter-spacing:0.00px"> Findings inconsistent with </tspan><tspan style="fill:#0a0a0a;letter-spacing:-0.60px">CHF</tspan></text>
<path d="M1499.5 1659.8L1499.5 1687.7" fill="none" stroke="#1567ab" stroke-width="3.0" stroke-linecap="round" stroke-linejoin="round"/>
<path d="M1493.1 1681.3L1499.5 1687.7L1505.9 1681.3" fill="none" stroke="#1567ab" stroke-width="3.0" stroke-linecap="round" stroke-linejoin="round"/>
<rect x="1351.0" y="1691.7" width="297.7" height="96.7" rx="19.0" fill="#9fc8ee"/>
<rect x="1363.0" y="1703.7" width="273.7" height="72.7" rx="7.0" fill="#fff"/>
<text transform="translate(1499.5 1736.5) scale(1.060 1)" text-anchor="middle" font-size="20.0"><tspan style="fill:#1567ab;stroke:#1567ab;stroke-width:.8px;letter-spacing:0.30px">Diagnostic &amp; therapeutic</tspan></text>
<text transform="translate(1499.5 1757.5) scale(1.060 1)" text-anchor="middle" font-size="20.0"><tspan style="fill:#1567ab;stroke:#1567ab;stroke-width:.8px;letter-spacing:0.30px">thoracentesis</tspan></text>
<path d="M1499.5 1788.4L1499.5 1816.8" fill="none" stroke="#1567ab" stroke-width="3.0" stroke-linecap="round" stroke-linejoin="round"/>
<path d="M1493.1 1810.4L1499.5 1816.8L1505.9 1810.4" fill="none" stroke="#1567ab" stroke-width="3.0" stroke-linecap="round" stroke-linejoin="round"/>
<rect x="1314.2" y="1820.3" width="370.8" height="126.1" rx="9.0" fill="#e8f0f9" stroke="#1567ab" stroke-width="3.0" stroke-dasharray="4.9 9.4" stroke-linecap="round"/>
<text transform="translate(1499.5 1852.7) scale(1.060 1)" text-anchor="middle" font-size="20.0"><tspan style="fill:#1567ab;stroke:#1567ab;stroke-width:.8px;letter-spacing:-0.70px">PF</tspan><tspan style="fill:#1567ab;stroke:#1567ab;stroke-width:.8px;letter-spacing:0.30px"> analysis:</tspan><tspan style="fill:#1567ab;letter-spacing:0.00px"> Cell count / differential,</tspan></text>
<text transform="translate(1499.5 1873.6) scale(1.060 1)" text-anchor="middle" font-size="20.0"><tspan style="fill:#1567ab;letter-spacing:0.00px">total protein, </tspan><tspan style="fill:#1567ab;letter-spacing:-0.60px">LDH,</tspan><tspan style="fill:#1567ab;letter-spacing:0.00px"> glucose,</tspan></text>
<text transform="translate(1499.5 1894.6) scale(1.060 1)" text-anchor="middle" font-size="20.0"><tspan style="fill:#1567ab;letter-spacing:0.00px">cholesterol, triglycerides</tspan></text>
<text transform="translate(1499.5 1924.0) scale(1.060 1)" text-anchor="middle" font-size="20.0"><tspan style="fill:#1567ab;stroke:#1567ab;stroke-width:.8px;letter-spacing:0.30px">Labs:</tspan><tspan style="fill:#1567ab;letter-spacing:0.00px"> Total protein, </tspan><tspan style="fill:#1567ab;letter-spacing:-0.60px">LDH</tspan></text>
<path d="M1499.5 1946.4L1499.5 1973.8" fill="none" stroke="#1567ab" stroke-width="3.0" stroke-linecap="round" stroke-linejoin="round"/>
<path d="M1493.1 1967.4L1499.5 1973.8L1505.9 1967.4" fill="none" stroke="#1567ab" stroke-width="3.0" stroke-linecap="round" stroke-linejoin="round"/>
<rect x="1346.6" y="1977.3" width="306.1" height="54.8" rx="9.0" fill="#fff" stroke="#1567ab" stroke-width="3.2"/>
<text transform="translate(1499.5 2009.7) scale(1.060 1)" text-anchor="middle" font-size="20.0"><tspan style="fill:#1567ab;stroke:#1567ab;stroke-width:.8px;letter-spacing:0.30px">Light's criteria fluid analysis</tspan></text>
<path d="M1490.2 2032.1L1490.2 2052.0Q1490.2 2060.0 1482.2 2060.0L1280.9 2060.0Q1272.9 2060.0 1272.9 2068.0L1272.9 2085.5" fill="none" stroke="#1567ab" stroke-width="3.0" stroke-linecap="round" stroke-linejoin="round"/>
<path d="M1266.5 2079.1L1272.9 2085.5L1279.3 2079.1" fill="none" stroke="#1567ab" stroke-width="3.0" stroke-linecap="round" stroke-linejoin="round"/>
<path d="M1508.7 2032.1L1508.7 2052.0Q1508.7 2060.0 1516.7 2060.0L1718.5 2060.0Q1726.5 2060.0 1726.5 2068.0L1726.5 2085.5" fill="none" stroke="#1567ab" stroke-width="3.0" stroke-linecap="round" stroke-linejoin="round"/>
<path d="M1720.1 2079.1L1726.5 2085.5L1732.9 2079.1" fill="none" stroke="#1567ab" stroke-width="3.0" stroke-linecap="round" stroke-linejoin="round"/>
<text transform="translate(1128.3 2106.4) scale(1.060 1)" text-anchor="start" font-size="20.0"><tspan style="fill:#1567ab;stroke:#1567ab;stroke-width:.8px;letter-spacing:0.30px">Transudate:</tspan></text>
<circle cx="1133.8" cy="2130.1" r="3.8" fill="#111"/>
<text transform="translate(1153.2 2135.3) scale(1.060 1)" text-anchor="start" font-size="20.0"><tspan style="fill:#0a0a0a;letter-spacing:0.00px">pProtein / sProtein &lt; 0.5</tspan></text>
<text transform="translate(1272.9 2164.2) scale(1.060 1)" text-anchor="middle" font-size="20.0"><tspan style="fill:#111;font-weight:bold;letter-spacing:-.7px;stroke:#111;stroke-width:.25px">OR</tspan></text>
<circle cx="1133.8" cy="2188.5" r="3.8" fill="#111"/>
<text transform="translate(1153.2 2193.7) scale(1.060 1)" text-anchor="start" font-size="20.0"><tspan style="fill:#0a0a0a;letter-spacing:0.00px">p</tspan><tspan style="fill:#0a0a0a;letter-spacing:-0.60px">LDH</tspan><tspan style="fill:#0a0a0a;letter-spacing:0.00px"> / s</tspan><tspan style="fill:#0a0a0a;letter-spacing:-0.60px">LDH</tspan><tspan style="fill:#0a0a0a;letter-spacing:0.00px"> &lt; 0.6</tspan></text>
<text transform="translate(1272.9 2222.6) scale(1.060 1)" text-anchor="middle" font-size="20.0"><tspan style="fill:#111;font-weight:bold;letter-spacing:-.7px;stroke:#111;stroke-width:.25px">OR</tspan></text>
<circle cx="1133.8" cy="2246.8" r="3.8" fill="#111"/>
<text transform="translate(1153.2 2252.0) scale(1.060 1)" text-anchor="start" font-size="20.0"><tspan style="fill:#0a0a0a;letter-spacing:0.00px">p</tspan><tspan style="fill:#0a0a0a;letter-spacing:-0.60px">LDH</tspan><tspan style="fill:#0a0a0a;letter-spacing:0.00px"> &lt;</tspan></text>
<text transform="translate(1231.0 2245.0) scale(1.060 1)" text-anchor="start" font-size="11.5"><tspan style="fill:#0a0a0a;letter-spacing:0.00px">2</tspan></text>
<text transform="translate(1237.2 2252.0) scale(1.060 1)" text-anchor="start" font-size="20.0"><tspan style="fill:#0a0a0a;letter-spacing:0.00px">/</tspan></text>
<text transform="translate(1243.5 2257.5) scale(1.060 1)" text-anchor="start" font-size="11.5"><tspan style="fill:#0a0a0a;letter-spacing:0.00px">3</tspan></text>
<text transform="translate(1258.0 2252.0) scale(1.060 1)" text-anchor="start" font-size="20.0"><tspan style="fill:#0a0a0a;letter-spacing:0.00px">high-norm s</tspan><tspan style="fill:#0a0a0a;letter-spacing:-0.60px">LDH</tspan></text>
<text transform="translate(1583.0 2106.4) scale(1.060 1)" text-anchor="start" font-size="20.0"><tspan style="fill:#1567ab;stroke:#1567ab;stroke-width:.8px;letter-spacing:0.30px">Exudate:</tspan></text>
<circle cx="1588.4" cy="2130.1" r="3.8" fill="#111"/>
<text transform="translate(1607.9 2135.3) scale(1.060 1)" text-anchor="start" font-size="20.0"><tspan style="fill:#0a0a0a;letter-spacing:0.00px">pProtein / sProtein ≥ 0.5</tspan></text>
<text transform="translate(1726.5 2164.2) scale(1.060 1)" text-anchor="middle" font-size="20.0"><tspan style="fill:#111;font-weight:bold;letter-spacing:-.7px;stroke:#111;stroke-width:.25px">OR</tspan></text>
<circle cx="1588.4" cy="2188.5" r="3.8" fill="#111"/>
<text transform="translate(1607.9 2193.7) scale(1.060 1)" text-anchor="start" font-size="20.0"><tspan style="fill:#0a0a0a;letter-spacing:0.00px">p</tspan><tspan style="fill:#0a0a0a;letter-spacing:-0.60px">LDH</tspan><tspan style="fill:#0a0a0a;letter-spacing:0.00px"> / s</tspan><tspan style="fill:#0a0a0a;letter-spacing:-0.60px">LDH</tspan><tspan style="fill:#0a0a0a;letter-spacing:0.00px"> ≥ 0.6</tspan></text>
<text transform="translate(1726.5 2222.6) scale(1.060 1)" text-anchor="middle" font-size="20.0"><tspan style="fill:#111;font-weight:bold;letter-spacing:-.7px;stroke:#111;stroke-width:.25px">OR</tspan></text>
<circle cx="1588.4" cy="2246.8" r="3.8" fill="#111"/>
<text transform="translate(1607.9 2252.0) scale(1.060 1)" text-anchor="start" font-size="20.0"><tspan style="fill:#0a0a0a;letter-spacing:0.00px">p</tspan><tspan style="fill:#0a0a0a;letter-spacing:-0.60px">LDH</tspan><tspan style="fill:#0a0a0a;letter-spacing:0.00px"> ≥</tspan></text>
<text transform="translate(1686.0 2245.0) scale(1.060 1)" text-anchor="start" font-size="11.5"><tspan style="fill:#0a0a0a;letter-spacing:0.00px">2</tspan></text>
<text transform="translate(1692.2 2252.0) scale(1.060 1)" text-anchor="start" font-size="20.0"><tspan style="fill:#0a0a0a;letter-spacing:0.00px">/</tspan></text>
<text transform="translate(1698.5 2257.5) scale(1.060 1)" text-anchor="start" font-size="11.5"><tspan style="fill:#0a0a0a;letter-spacing:0.00px">3</tspan></text>
<text transform="translate(1712.5 2252.0) scale(1.060 1)" text-anchor="start" font-size="20.0"><tspan style="fill:#0a0a0a;letter-spacing:0.00px">high-norm s</tspan><tspan style="fill:#0a0a0a;letter-spacing:-0.60px">LDH</tspan></text>
<path d="M1272.9 2262.0L1272.9 2290.9" fill="none" stroke="#1567ab" stroke-width="3.0" stroke-linecap="round" stroke-linejoin="round"/>
<path d="M1266.5 2284.5L1272.9 2290.9L1279.3 2284.5" fill="none" stroke="#1567ab" stroke-width="3.0" stroke-linecap="round" stroke-linejoin="round"/>
<rect x="1138.3" y="2293.4" width="267.2" height="159.6" rx="10.0" fill="#0070c0"/>
<text x="1271.9" y="2331.4" text-anchor="middle" font-size="25.2" font-weight="normal" textLength="230.8" lengthAdjust="spacingAndGlyphs" fill="#fff" stroke="#fff" stroke-width="2.2" stroke-linejoin="round">DISEASE-SPECIFIC</text>
<text x="1272.4" y="2357.8" text-anchor="middle" font-size="25.2" font-weight="normal" textLength="122.8" lengthAdjust="spacingAndGlyphs" fill="#fff" stroke="#fff" stroke-width="2.2" stroke-linejoin="round">EFFUSION:</text>
<circle cx="1167.7" cy="2382.8" r="3.8" fill="#fff"/>
<text transform="translate(1187.6 2388.0) scale(1.060 1)" text-anchor="start" font-size="20.0"><tspan style="fill:#fff;letter-spacing:-0.40px">CHF</tspan></text>
<circle cx="1167.7" cy="2404.4" r="3.8" fill="#fff"/>
<text transform="translate(1187.6 2409.6) scale(1.060 1)" text-anchor="start" font-size="20.0"><tspan style="fill:#fff;letter-spacing:0.20px">Cirrhosis</tspan></text>
<circle cx="1167.7" cy="2425.8" r="3.8" fill="#fff"/>
<text transform="translate(1187.6 2431.0) scale(1.060 1)" text-anchor="start" font-size="20.0"><tspan style="fill:#fff;letter-spacing:0.20px">Nephrotic syndrome</tspan></text>
<path d="M1272.9 2453.0L1272.9 2480.8" fill="none" stroke="#1567ab" stroke-width="3.0" stroke-linecap="round" stroke-linejoin="round"/>
<path d="M1266.5 2474.4L1272.9 2480.8L1279.3 2474.4" fill="none" stroke="#1567ab" stroke-width="3.0" stroke-linecap="round" stroke-linejoin="round"/>
<rect x="1132.3" y="2484.3" width="279.7" height="78.8" rx="19.0" fill="#9fc8ee"/>
<rect x="1144.3" y="2496.3" width="255.7" height="54.8" rx="7.0" fill="#fff"/>
<text transform="translate(1272.3 2529.2) scale(1.060 1)" text-anchor="middle" font-size="20.0"><tspan style="fill:#1567ab;stroke:#1567ab;stroke-width:.8px;letter-spacing:0.30px">Treat underlying cause</tspan></text>
<path d="M1726.5 2265.4L1726.5 2350.7" fill="none" stroke="#1567ab" stroke-width="3.0" stroke-linecap="round" stroke-linejoin="round"/>
<path d="M1720.1 2344.3L1726.5 2350.7L1732.9 2344.3" fill="none" stroke="#1567ab" stroke-width="3.0" stroke-linecap="round" stroke-linejoin="round"/>
<rect x="1584.0" y="2353.2" width="284.6" height="132.1" rx="9.0" fill="#e8f0f9" stroke="#1567ab" stroke-width="3.0" stroke-dasharray="4.9 9.4" stroke-linecap="round"/>
<text transform="translate(1726.5 2386.0) scale(1.060 1)" text-anchor="middle" font-size="20.0"><tspan style="fill:#1567ab;stroke:#1567ab;stroke-width:.8px;letter-spacing:0.30px">Additional pleural fluid</tspan></text>
<text transform="translate(1726.5 2407.0) scale(1.060 1)" text-anchor="middle" font-size="20.0"><tspan style="fill:#1567ab;stroke:#1567ab;stroke-width:.8px;letter-spacing:0.30px">studies</tspan></text>
<circle cx="1606.9" cy="2431.3" r="3.8" fill="#1567ab"/>
<text transform="translate(1626.8 2436.5) scale(1.060 1)" text-anchor="start" font-size="20.0"><tspan style="fill:#1567ab;letter-spacing:0.00px">Cytology, gram stain</tspan></text>
<circle cx="1606.9" cy="2460.2" r="3.8" fill="#1567ab"/>
<text transform="translate(1626.8 2465.4) scale(1.060 1)" text-anchor="start" font-size="20.0"><tspan style="fill:#1567ab;letter-spacing:0.00px">+/- Pleural amylase / </tspan><tspan style="fill:#1567ab;letter-spacing:-0.60px">RF</tspan></text>
<path d="M1700.0 2485.3L1700.0 2621.9Q1700.0 2629.9 1692.0 2629.9L1175.2 2629.9Q1167.2 2629.9 1167.2 2637.9L1167.2 2683.7" fill="none" stroke="#1567ab" stroke-width="3.0" stroke-linecap="round" stroke-linejoin="round"/>
<path d="M1160.8 2677.3L1167.2 2683.7L1173.6 2677.3" fill="none" stroke="#1567ab" stroke-width="3.0" stroke-linecap="round" stroke-linejoin="round"/>
<path d="M1718.0 2485.3L1718.0 2645.3Q1718.0 2653.3 1710.0 2653.3L1547.6 2653.3Q1539.6 2653.3 1539.6 2661.3L1539.6 2683.7" fill="none" stroke="#1567ab" stroke-width="3.0" stroke-linecap="round" stroke-linejoin="round"/>
<path d="M1533.2 2677.3L1539.6 2683.7L1546.0 2677.3" fill="none" stroke="#1567ab" stroke-width="3.0" stroke-linecap="round" stroke-linejoin="round"/>
<path d="M1735.6 2485.3L1735.6 2645.3Q1735.6 2653.3 1743.6 2653.3L1905.3 2653.3Q1913.3 2653.3 1913.3 2661.3L1913.3 2683.7" fill="none" stroke="#1567ab" stroke-width="3.0" stroke-linecap="round" stroke-linejoin="round"/>
<path d="M1906.9 2677.3L1913.3 2683.7L1919.7 2677.3" fill="none" stroke="#1567ab" stroke-width="3.0" stroke-linecap="round" stroke-linejoin="round"/>
<path d="M1753.3 2485.3L1753.3 2621.9Q1753.3 2629.9 1761.3 2629.9L2277.7 2629.9Q2285.7 2629.9 2285.7 2637.9L2285.7 2683.7" fill="none" stroke="#1567ab" stroke-width="3.0" stroke-linecap="round" stroke-linejoin="round"/>
<path d="M2279.3 2677.3L2285.7 2683.7L2292.1 2677.3" fill="none" stroke="#1567ab" stroke-width="3.0" stroke-linecap="round" stroke-linejoin="round"/>
<text transform="translate(1017.3 2707.1) scale(1.060 1)" text-anchor="start" font-size="20.0"><tspan style="fill:#1567ab;stroke:#1567ab;stroke-width:.8px;letter-spacing:0.30px">Findings:</tspan></text>
<circle cx="1022.3" cy="2731.4" r="3.8" fill="#111"/>
<text transform="translate(1042.3 2736.6) scale(1.060 1)" text-anchor="start" font-size="20.0"><tspan style="fill:#111;font-weight:bold;letter-spacing:-.7px;stroke:#111;stroke-width:.25px">Cytology:</tspan><tspan style="fill:#0a0a0a;letter-spacing:0.00px"> No malignant cells</tspan></text>
<circle cx="1022.3" cy="2760.8" r="3.8" fill="#111"/>
<text transform="translate(1042.3 2766.0) scale(1.060 1)" text-anchor="start" font-size="20.0"><tspan style="fill:#111;font-weight:bold;letter-spacing:-.7px;stroke:#111;stroke-width:.25px">Gram stain:</tspan><tspan style="fill:#0a0a0a;letter-spacing:0.00px"> Organisms</tspan></text>
<circle cx="1022.3" cy="2791.7" r="3.8" fill="#111"/>
<text transform="translate(1042.3 2796.9) scale(1.060 1)" text-anchor="start" font-size="20.0"><tspan style="fill:#111;font-weight:bold;letter-spacing:-.7px;stroke:#111;stroke-width:.25px">Cell count:</tspan></text>
<text transform="translate(1042.3 2817.8) scale(1.060 1)" text-anchor="start" font-size="20.0"><tspan style="fill:#0a0a0a;letter-spacing:0.00px">neutrophil predominance</tspan></text>
<circle cx="1022.3" cy="2841.6" r="3.8" fill="#111"/>
<text transform="translate(1042.3 2846.8) scale(1.060 1)" text-anchor="start" font-size="20.0"><tspan style="fill:#0a0a0a;letter-spacing:0.00px">Decreased pGlucose</tspan></text>
<circle cx="1022.3" cy="2871.0" r="3.8" fill="#111"/>
<text transform="translate(1042.3 2876.2) scale(1.060 1)" text-anchor="start" font-size="20.0"><tspan style="fill:#0a0a0a;letter-spacing:0.00px">p</tspan><tspan style="fill:#0a0a0a;letter-spacing:-0.60px">LDH</tspan><tspan style="fill:#0a0a0a;letter-spacing:0.00px"> &gt; 1000 </tspan><tspan style="fill:#0a0a0a;letter-spacing:-0.60px">IU</tspan><tspan style="fill:#0a0a0a;letter-spacing:0.00px">/L</tspan></text>
<circle cx="1022.3" cy="2899.8" r="3.8" fill="#111"/>
<text transform="translate(1042.3 2905.0) scale(1.060 1)" text-anchor="start" font-size="20.0"><tspan style="fill:#0a0a0a;letter-spacing:0.00px">Elevated pProtein</tspan></text>
<path d="M1153.8 2799.5L1153.8 2778.1M1149.6 2782.6L1153.8 2777.9L1158.0 2782.6" fill="none" stroke="#111" stroke-width="1.6" stroke-linecap="round" stroke-linejoin="round"/>
<text transform="translate(1163.3 2796.9) scale(1.060 1)" text-anchor="start" font-size="20.0"><tspan style="fill:#0a0a0a;letter-spacing:-0.60px">WBC</tspan><tspan style="fill:#0a0a0a;letter-spacing:0.00px">s,</tspan></text>
<path d="M1166.9 2912.6L1166.9 2940.5" fill="none" stroke="#1567ab" stroke-width="3.0" stroke-linecap="round" stroke-linejoin="round"/>
<path d="M1160.5 2934.1L1166.9 2940.5L1173.3 2934.1" fill="none" stroke="#1567ab" stroke-width="3.0" stroke-linecap="round" stroke-linejoin="round"/>
<rect x="1045.2" y="2943.0" width="243.8" height="83.7" rx="10.0" fill="#0070c0"/>
<text x="1167.0" y="2980.5" text-anchor="middle" font-size="25.2" font-weight="normal" textLength="206.8" lengthAdjust="spacingAndGlyphs" fill="#fff" stroke="#fff" stroke-width="2.2" stroke-linejoin="round">PARAPNEUMONIC</text>
<text x="1167.4" y="3007.4" text-anchor="middle" font-size="25.2" font-weight="normal" textLength="116.8" lengthAdjust="spacingAndGlyphs" fill="#fff" stroke="#fff" stroke-width="2.2" stroke-linejoin="round">EFFUSION</text>
<path d="M1166.9 3026.7L1166.9 3054.6" fill="none" stroke="#1567ab" stroke-width="3.0" stroke-linecap="round" stroke-linejoin="round"/>
<path d="M1160.5 3048.2L1166.9 3054.6L1173.3 3048.2" fill="none" stroke="#1567ab" stroke-width="3.0" stroke-linecap="round" stroke-linejoin="round"/>
<rect x="1042.3" y="3057.6" width="249.7" height="73.8" rx="19.0" fill="#9fc8ee"/>
<rect x="1054.3" y="3069.6" width="225.7" height="49.8" rx="7.0" fill="#fff"/>
<text transform="translate(1167.2 3102.5) scale(1.060 1)" text-anchor="middle" font-size="20.0"><tspan style="fill:#1567ab;stroke:#1567ab;stroke-width:.8px;letter-spacing:0.30px">Antibiotic therapy</tspan></text>
<text transform="translate(1403.2 2707.1) scale(1.060 1)" text-anchor="start" font-size="20.0"><tspan style="fill:#1567ab;stroke:#1567ab;stroke-width:.8px;letter-spacing:0.30px">Findings:</tspan></text>
<circle cx="1408.2" cy="2731.4" r="3.8" fill="#111"/>
<text transform="translate(1428.2 2736.6) scale(1.060 1)" text-anchor="start" font-size="20.0"><tspan style="fill:#111;font-weight:bold;letter-spacing:-.7px;stroke:#111;stroke-width:.25px">Cytology:</tspan><tspan style="fill:#0a0a0a;letter-spacing:0.00px"> Malignant cells</tspan></text>
<circle cx="1408.2" cy="2760.8" r="3.8" fill="#111"/>
<text transform="translate(1428.2 2766.0) scale(1.060 1)" text-anchor="start" font-size="20.0"><tspan style="fill:#111;font-weight:bold;letter-spacing:-.7px;stroke:#111;stroke-width:.25px">Gram stain:</tspan><tspan style="fill:#0a0a0a;letter-spacing:0.00px"> No organisms</tspan></text>
<circle cx="1408.2" cy="2791.7" r="3.8" fill="#111"/>
<text transform="translate(1428.2 2796.9) scale(1.060 1)" text-anchor="start" font-size="20.0"><tspan style="fill:#111;font-weight:bold;letter-spacing:-.7px;stroke:#111;stroke-width:.25px">Cell count:</tspan></text>
<text transform="translate(1428.2 2817.8) scale(1.060 1)" text-anchor="start" font-size="20.0"><tspan style="fill:#0a0a0a;letter-spacing:0.00px">lymphocyte predominance</tspan></text>
<circle cx="1408.2" cy="2841.6" r="3.8" fill="#111"/>
<text transform="translate(1428.2 2846.8) scale(1.060 1)" text-anchor="start" font-size="20.0"><tspan style="fill:#0a0a0a;letter-spacing:0.00px">+/- Decreased pGlucose</tspan></text>
<circle cx="1408.2" cy="2871.0" r="3.8" fill="#111"/>
<text transform="translate(1428.2 2876.2) scale(1.060 1)" text-anchor="start" font-size="20.0"><tspan style="fill:#0a0a0a;letter-spacing:0.00px">p</tspan><tspan style="fill:#0a0a0a;letter-spacing:-0.60px">LDH</tspan><tspan style="fill:#0a0a0a;letter-spacing:0.00px"> &gt; 1000 </tspan><tspan style="fill:#0a0a0a;letter-spacing:-0.60px">IU</tspan><tspan style="fill:#0a0a0a;letter-spacing:0.00px">/L</tspan></text>
<path d="M1539.6 2799.5L1539.6 2778.1M1535.4 2782.6L1539.6 2777.9L1543.8 2782.6" fill="none" stroke="#111" stroke-width="1.6" stroke-linecap="round" stroke-linejoin="round"/>
<text transform="translate(1549.2 2796.9) scale(1.060 1)" text-anchor="start" font-size="20.0"><tspan style="fill:#0a0a0a;letter-spacing:-0.60px">WBC</tspan><tspan style="fill:#0a0a0a;letter-spacing:0.00px">s,</tspan></text>
<path d="M1539.8 2886.0L1539.8 2914.6" fill="none" stroke="#1567ab" stroke-width="3.0" stroke-linecap="round" stroke-linejoin="round"/>
<path d="M1533.4 2908.2L1539.8 2914.6L1546.2 2908.2" fill="none" stroke="#1567ab" stroke-width="3.0" stroke-linecap="round" stroke-linejoin="round"/>
<rect x="1447.5" y="2917.0" width="185.0" height="83.8" rx="10.0" fill="#0070c0"/>
<text x="1539.8" y="2954.5" text-anchor="middle" font-size="25.2" font-weight="normal" textLength="147.8" lengthAdjust="spacingAndGlyphs" fill="#fff" stroke="#fff" stroke-width="2.2" stroke-linejoin="round">MALIGNANT</text>
<text x="1540.3" y="2981.5" text-anchor="middle" font-size="25.2" font-weight="normal" textLength="116.8" lengthAdjust="spacingAndGlyphs" fill="#fff" stroke="#fff" stroke-width="2.2" stroke-linejoin="round">EFFUSION</text>
<path d="M1539.8 3000.8L1539.8 3028.7" fill="none" stroke="#1567ab" stroke-width="3.0" stroke-linecap="round" stroke-linejoin="round"/>
<path d="M1533.4 3022.3L1539.8 3028.7L1546.2 3022.3" fill="none" stroke="#1567ab" stroke-width="3.0" stroke-linecap="round" stroke-linejoin="round"/>
<rect x="1430.6" y="3031.7" width="219.4" height="99.7" rx="19.0" fill="#9fc8ee"/>
<rect x="1442.6" y="3043.7" width="195.4" height="75.7" rx="7.0" fill="#fff"/>
<text transform="translate(1540.3 3077.0) scale(1.060 1)" text-anchor="middle" font-size="20.0"><tspan style="fill:#1567ab;stroke:#1567ab;stroke-width:.8px;letter-spacing:0.30px">Treat underlying</tspan></text>
<text transform="translate(1540.3 3098.0) scale(1.060 1)" text-anchor="middle" font-size="20.0"><tspan style="fill:#1567ab;stroke:#1567ab;stroke-width:.8px;letter-spacing:0.30px">malignancy</tspan></text>
<text transform="translate(1763.7 2707.1) scale(1.060 1)" text-anchor="start" font-size="20.0"><tspan style="fill:#1567ab;stroke:#1567ab;stroke-width:.8px;letter-spacing:0.30px">Findings:</tspan></text>
<circle cx="1768.7" cy="2731.4" r="3.8" fill="#111"/>
<text transform="translate(1788.7 2736.6) scale(1.060 1)" text-anchor="start" font-size="20.0"><tspan style="fill:#111;font-weight:bold;letter-spacing:-.7px;stroke:#111;stroke-width:.25px">Cytology:</tspan><tspan style="fill:#0a0a0a;letter-spacing:0.00px"> No malignant cells</tspan></text>
<circle cx="1768.7" cy="2760.8" r="3.8" fill="#111"/>
<text transform="translate(1788.7 2766.0) scale(1.060 1)" text-anchor="start" font-size="20.0"><tspan style="fill:#111;font-weight:bold;letter-spacing:-.7px;stroke:#111;stroke-width:.25px">Gram stain:</tspan><tspan style="fill:#0a0a0a;letter-spacing:0.00px"> No organisms</tspan></text>
<circle cx="1768.7" cy="2791.7" r="3.8" fill="#111"/>
<text transform="translate(1788.7 2796.9) scale(1.060 1)" text-anchor="start" font-size="20.0"><tspan style="fill:#111;font-weight:bold;letter-spacing:-.7px;stroke:#111;stroke-width:.25px">Cell count:</tspan></text>
<circle cx="1768.7" cy="2820.5" r="3.8" fill="#111"/>
<text transform="translate(1788.7 2825.7) scale(1.060 1)" text-anchor="start" font-size="20.0"><tspan style="fill:#0a0a0a;letter-spacing:0.00px">+/- Increased amylase / </tspan><tspan style="fill:#0a0a0a;letter-spacing:-0.60px">RF</tspan></text>
<text transform="translate(1788.7 2846.6) scale(1.060 1)" text-anchor="start" font-size="20.0"><tspan style="fill:#0a0a0a;letter-spacing:0.00px">positive</tspan></text>
<path d="M1900.2 2799.5L1900.2 2778.1M1896.0 2782.6L1900.2 2777.9L1904.4 2782.6" fill="none" stroke="#111" stroke-width="1.6" stroke-linecap="round" stroke-linejoin="round"/>
<text transform="translate(1909.8 2796.9) scale(1.060 1)" text-anchor="start" font-size="20.0"><tspan style="fill:#0a0a0a;letter-spacing:-0.60px">WBC</tspan><tspan style="fill:#0a0a0a;letter-spacing:0.00px">s</tspan></text>
<path d="M1913.3 2852.6L1913.3 2880.5" fill="none" stroke="#1567ab" stroke-width="3.0" stroke-linecap="round" stroke-linejoin="round"/>
<path d="M1906.9 2874.1L1913.3 2880.5L1919.7 2874.1" fill="none" stroke="#1567ab" stroke-width="3.0" stroke-linecap="round" stroke-linejoin="round"/>
<rect x="1783.2" y="2883.0" width="259.7" height="153.6" rx="10.0" fill="#0070c0"/>
<text x="1913.3" y="2920.5" text-anchor="middle" font-size="25.2" font-weight="normal" textLength="191.8" lengthAdjust="spacingAndGlyphs" fill="#fff" stroke="#fff" stroke-width="2.2" stroke-linejoin="round">INFLAMMATORY</text>
<text x="1913.6" y="2947.4" text-anchor="middle" font-size="25.2" font-weight="normal" textLength="122.8" lengthAdjust="spacingAndGlyphs" fill="#fff" stroke="#fff" stroke-width="2.2" stroke-linejoin="round">EFFUSION:</text>
<circle cx="1805.1" cy="2969.6" r="3.8" fill="#fff"/>
<text transform="translate(1825.0 2974.8) scale(1.060 1)" text-anchor="start" font-size="20.0"><tspan style="fill:#fff;letter-spacing:-0.40px">ARDS</tspan></text>
<circle cx="1805.1" cy="2991.0" r="3.8" fill="#fff"/>
<text transform="translate(1825.0 2996.2) scale(1.060 1)" text-anchor="start" font-size="20.0"><tspan style="fill:#fff;letter-spacing:0.20px">Pancreatitis</tspan></text>
<circle cx="1805.1" cy="3011.9" r="3.8" fill="#fff"/>
<text transform="translate(1825.0 3017.1) scale(1.060 1)" text-anchor="start" font-size="20.0"><tspan style="fill:#fff;letter-spacing:0.20px">Autoimmune disease</tspan></text>
<path d="M1913.3 3036.6L1913.3 3064.5" fill="none" stroke="#1567ab" stroke-width="3.0" stroke-linecap="round" stroke-linejoin="round"/>
<path d="M1906.9 3058.1L1913.3 3064.5L1919.7 3058.1" fill="none" stroke="#1567ab" stroke-width="3.0" stroke-linecap="round" stroke-linejoin="round"/>
<rect x="1804.1" y="3067.5" width="218.4" height="97.2" rx="19.0" fill="#9fc8ee"/>
<rect x="1816.1" y="3079.5" width="194.4" height="73.2" rx="7.0" fill="#fff"/>
<text transform="translate(1913.3 3112.8) scale(1.060 1)" text-anchor="middle" font-size="20.0"><tspan style="fill:#1567ab;stroke:#1567ab;stroke-width:.8px;letter-spacing:0.30px">Treat underlying</tspan></text>
<text transform="translate(1913.3 3133.8) scale(1.060 1)" text-anchor="middle" font-size="20.0"><tspan style="fill:#1567ab;stroke:#1567ab;stroke-width:.8px;letter-spacing:0.30px">cause</tspan></text>
<text transform="translate(2136.6 2707.1) scale(1.060 1)" text-anchor="start" font-size="20.0"><tspan style="fill:#1567ab;stroke:#1567ab;stroke-width:.8px;letter-spacing:0.30px">Findings:</tspan></text>
<circle cx="2141.6" cy="2731.4" r="3.8" fill="#111"/>
<text transform="translate(2161.6 2736.6) scale(1.060 1)" text-anchor="start" font-size="20.0"><tspan style="fill:#111;font-weight:bold;letter-spacing:-.7px;stroke:#111;stroke-width:.25px">Cytology:</tspan><tspan style="fill:#0a0a0a;letter-spacing:0.00px"> No malignant cells</tspan></text>
<circle cx="2141.6" cy="2760.8" r="3.8" fill="#111"/>
<text transform="translate(2161.6 2766.0) scale(1.060 1)" text-anchor="start" font-size="20.0"><tspan style="fill:#111;font-weight:bold;letter-spacing:-.7px;stroke:#111;stroke-width:.25px">Gram stain:</tspan><tspan style="fill:#0a0a0a;letter-spacing:0.00px"> No organisms</tspan></text>
<circle cx="2141.6" cy="2789.6" r="3.8" fill="#111"/>
<text transform="translate(2161.6 2794.8) scale(1.060 1)" text-anchor="start" font-size="20.0"><tspan style="fill:#0a0a0a;letter-spacing:0.00px">Increased cholesterol &amp;</tspan></text>
<text transform="translate(2161.6 2815.7) scale(1.060 1)" text-anchor="start" font-size="20.0"><tspan style="fill:#0a0a0a;letter-spacing:0.00px">triglycerides</tspan></text>
<circle cx="2141.6" cy="2839.4" r="3.8" fill="#111"/>
<text transform="translate(2161.6 2844.6) scale(1.060 1)" text-anchor="start" font-size="20.0"><tspan style="fill:#0a0a0a;letter-spacing:0.00px">Milky-white pleural fluid</tspan></text>
<path d="M2285.7 2852.6L2285.7 2881.0" fill="none" stroke="#1567ab" stroke-width="3.0" stroke-linecap="round" stroke-linejoin="round"/>
<path d="M2279.3 2874.6L2285.7 2881.0L2292.1 2874.6" fill="none" stroke="#1567ab" stroke-width="3.0" stroke-linecap="round" stroke-linejoin="round"/>
<rect x="2149.0" y="2884.0" width="274.2" height="87.3" rx="10.0" fill="#0070c0"/>
<text x="2286.4" y="2920.5" text-anchor="middle" font-size="25.2" font-weight="normal" textLength="237.8" lengthAdjust="spacingAndGlyphs" fill="#fff" stroke="#fff" stroke-width="2.2" stroke-linejoin="round">CHYLOUS EFFUSION</text>
<text x="2286.2" y="2948.1" text-anchor="middle" font-size="27.0" font-weight="normal" textLength="195.1" lengthAdjust="spacingAndGlyphs" fill="#fff" stroke="#fff" stroke-width="0.9" stroke-linejoin="round">(CHYLOTHORAX)</text>
<path d="M2285.7 2971.3L2285.7 2999.2" fill="none" stroke="#1567ab" stroke-width="3.0" stroke-linecap="round" stroke-linejoin="round"/>
<path d="M2279.3 2992.8L2285.7 2999.2L2292.1 2992.8" fill="none" stroke="#1567ab" stroke-width="3.0" stroke-linecap="round" stroke-linejoin="round"/>
<rect x="2177.5" y="3002.2" width="218.3" height="97.2" rx="19.0" fill="#9fc8ee"/>
<rect x="2189.5" y="3014.2" width="194.3" height="73.2" rx="7.0" fill="#fff"/>
<text transform="translate(2286.6 3047.5) scale(1.060 1)" text-anchor="middle" font-size="20.0"><tspan style="fill:#1567ab;stroke:#1567ab;stroke-width:.8px;letter-spacing:0.30px">Treat underlying</tspan></text>
<text transform="translate(2286.6 3068.5) scale(1.060 1)" text-anchor="middle" font-size="20.0"><tspan style="fill:#1567ab;stroke:#1567ab;stroke-width:.8px;letter-spacing:0.30px">cause</tspan></text>
</svg>
</body></html>
